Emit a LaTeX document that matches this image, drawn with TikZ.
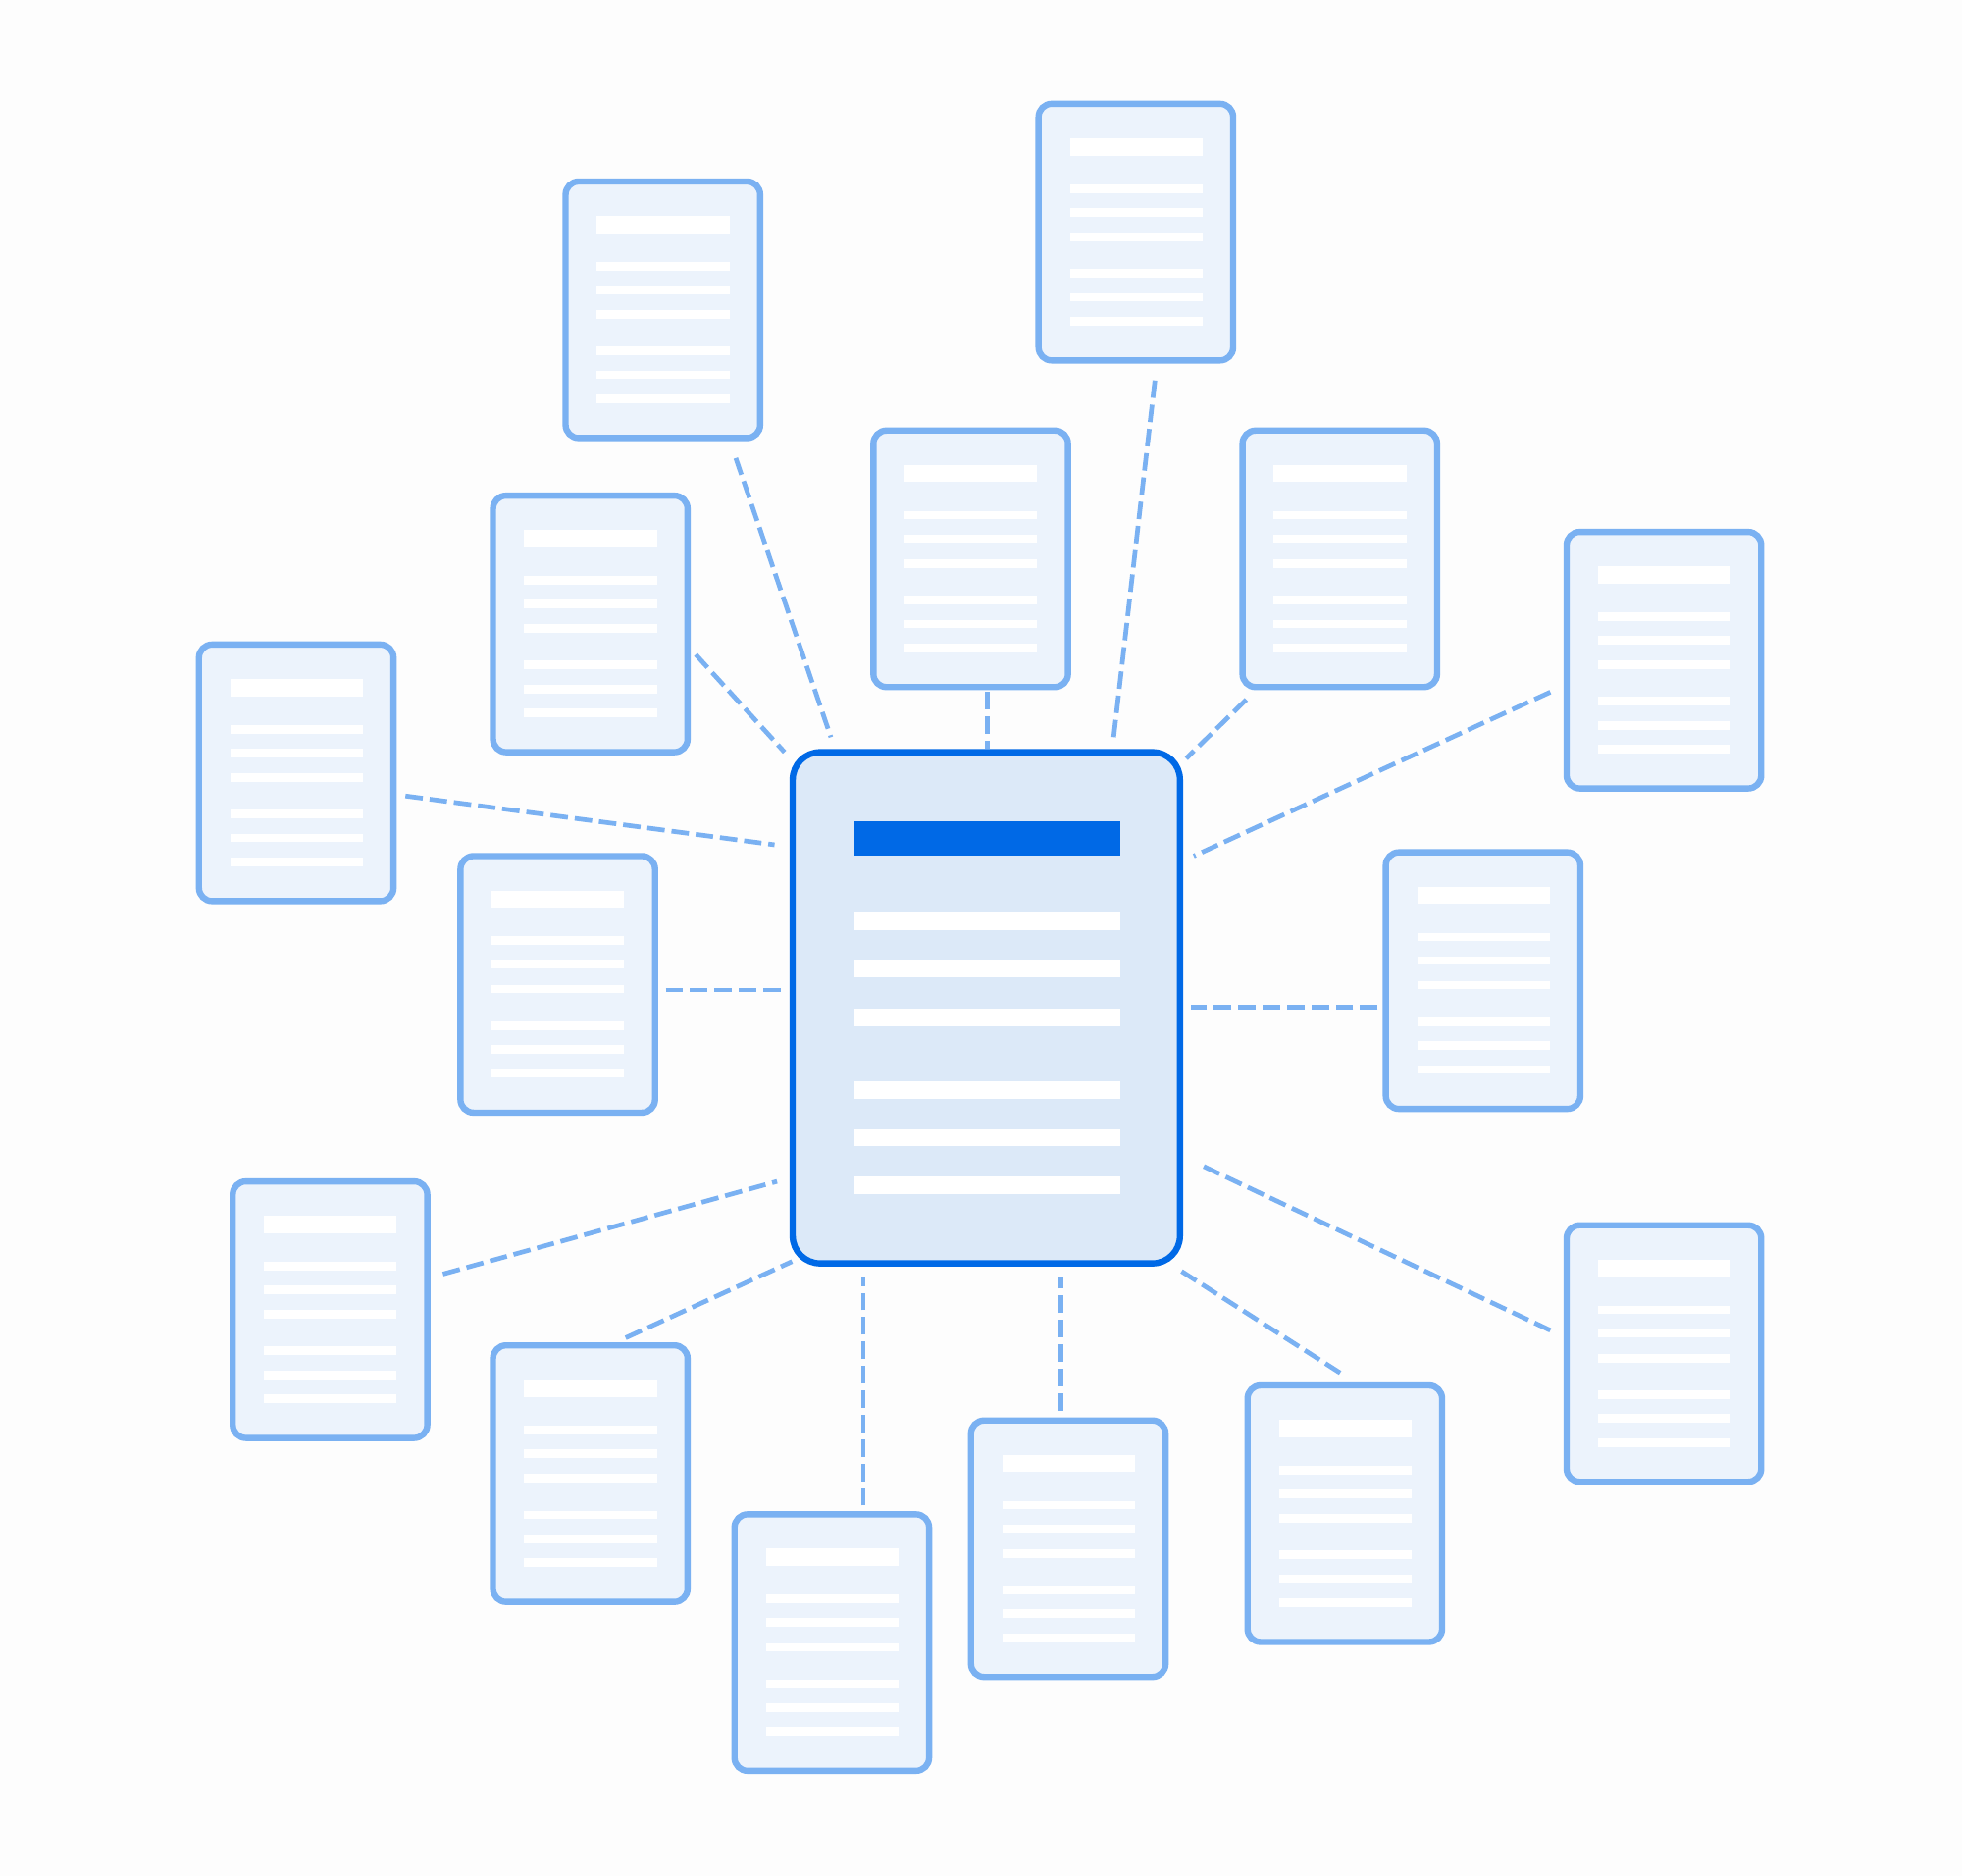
\documentclass[tikz,border=0pt]{standalone}
\usetikzlibrary{calc}
\definecolor{bgc}{HTML}{FDFDFD}
\definecolor{mainblue}{HTML}{0069E6}
\definecolor{mainfill}{HTML}{DCE9F8}
\definecolor{docline}{HTML}{7AB1F2}
\definecolor{docfill}{HTML}{ECF3FC}
\tikzset{
 sdoc/.style={draw=docline, fill=docfill, line width=5pt, rounded corners=10.5pt, minimum width=155.5pt, minimum height=205pt, inner sep=0pt, outer sep=0pt, anchor=north west},
 cdoc/.style={draw=mainblue, fill=mainfill, line width=5pt, rounded corners=22pt, minimum width=309.5pt, minimum height=408.5pt, inner sep=0pt, outer sep=0pt, anchor=north west},
 conn/.style={draw=docline, line width=3.7pt, dash pattern=on 14pt off 5.5pt},
 wbar/.style={fill=white},
 bbar/.style={fill=mainblue},
}
\newcommand\mydoc[3]{%
 \node[sdoc] (#1) at (#2,#3) {};
 \fill[wbar] ($(#1.north west)+(25,27.5)$) rectangle ++(106,13.8);
 \foreach \yy in {64.3,83.1,102.8,132.0,151.1,170.2}{
   \fill[wbar] ($(#1.north west)+(25,\yy)$) rectangle ++(106,6.8);
 }
}
\begin{document}
\begin{tikzpicture}[x=1pt,y=-1pt]
\fill[bgc] (0,0) rectangle (1568,1499);
\useasboundingbox (0,0) rectangle (1568,1499);
% connector end points
\coordinate (a1) at (588,366);  \coordinate (a2) at (664,589);
\coordinate (b1) at (923,304);  \coordinate (b2) at (890,589);
\coordinate (c1) at (789,553);  \coordinate (c2) at (789,598);
\coordinate (d1e) at (996,559); \coordinate (d2e) at (948,606);
\coordinate (e1) at (556,523);  \coordinate (e2) at (627,601);
\coordinate (f1) at (1239,553); \coordinate (f2) at (954,684);
\coordinate (g1) at (324,636);  \coordinate (g2) at (619,675);
\coordinate (h1) at (532,791);  \coordinate (h2) at (626,791);
\coordinate (i1) at (1101,805); \coordinate (i2) at (952,805);
\coordinate (j1) at (354,1018); \coordinate (j2) at (621,944);
\coordinate (k1) at (1239,1063);\coordinate (k2) at (962,932);
\coordinate (l1) at (500,1069); \coordinate (l2) at (633,1008);
\coordinate (m1) at (1071,1097);\coordinate (m2) at (943,1015);
\coordinate (n1) at (848,1127); \coordinate (n2) at (848,1020);
\coordinate (o1) at (690,1203); \coordinate (o2) at (690,1020);
\foreach \p in {a,b,c,e,f,g,h,i,j,k,l,m,n,o}{\draw[conn] (\p1) -- (\p2);}
\draw[conn] (d1e) -- (d2e);
% small documents
\mydoc{doc1}{452}{145}
\mydoc{doc2}{830}{83}
\mydoc{doc3}{698}{344}
\mydoc{doc4}{993}{344}
\mydoc{doc5}{394}{396}
\mydoc{doc6}{1252}{425}
\mydoc{doc7}{159}{515}
\mydoc{doc8}{368}{684}
\mydoc{doc9}{1107.5}{681}
\mydoc{doc10}{186}{944}
\mydoc{doc11}{1252}{979}
\mydoc{doc12}{394}{1075}
\mydoc{doc13}{997}{1107}
\mydoc{doc14}{776}{1135}
\mydoc{doc15}{587}{1210}
% central document
\node[cdoc] (main) at (633.5,601) {};
\fill[bbar] ($(main.north west)+(49.5,55)$) rectangle ++(212,28);
\foreach \yy in {736,774,813,871,909,947}{
  \fill[wbar] ($(main.north west)+(49.5,\yy-601-7)$) rectangle ++(212,14);
}
\end{tikzpicture}
\end{document}
